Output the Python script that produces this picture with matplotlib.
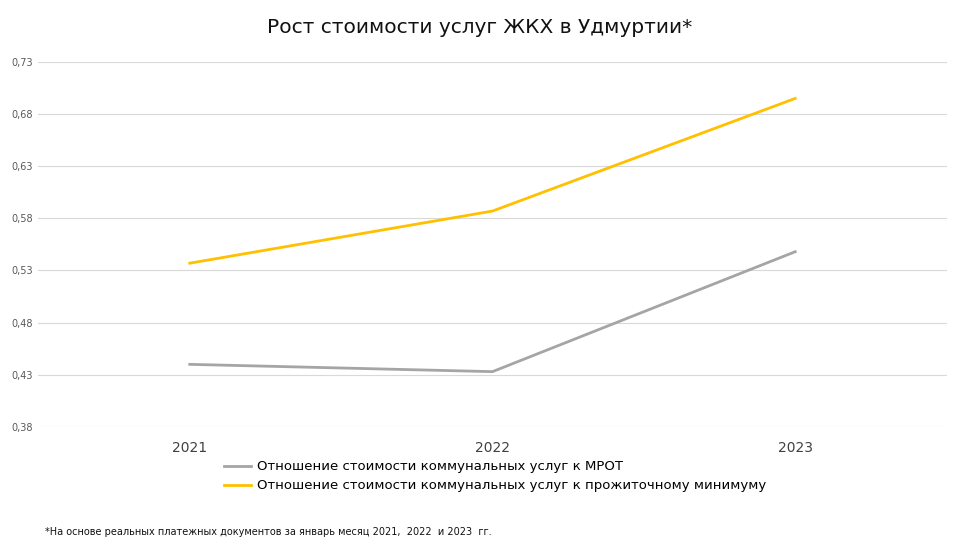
import matplotlib.pyplot as plt

years = ["2021", "2022", "2023"]
mrot = [0.440, 0.433, 0.548]
minimum = [0.537, 0.587, 0.695]
yticks = [0.38, 0.43, 0.48, 0.53, 0.58, 0.63, 0.68, 0.73]

fig = plt.figure(figsize=(9.6, 5.53), dpi=100)
ax = fig.add_axes([0.04, 0.228, 0.946, 0.66])

x = range(len(years))
l1, = ax.plot(x, mrot, color="#a5a5a5", lw=2.0,
              label="Отношение стоимости коммунальных услуг к МРОТ")
l2, = ax.plot(x, minimum, color="#ffc000", lw=2.0,
              label="Отношение стоимости коммунальных услуг к прожиточному минимуму")

ax.set_xlim(-0.5, 2.5)
ax.set_ylim(0.38, 0.73)
ax.set_yticks(yticks)
ax.set_yticklabels([f"{t:.2f}".replace(".", ",") for t in yticks])
ax.set_xticks(list(x))
ax.set_xticklabels(years)
ax.grid(axis="y", color="#d9d9d9", lw=0.8)
ax.set_axisbelow(True)
for s in ax.spines.values():
    s.set_visible(False)
ax.tick_params(axis="y", length=0, labelsize=7, colors="#595959", pad=4)
ax.tick_params(axis="x", length=0, labelsize=10, colors="#404040", pad=10)

fig.text(0.5, 0.95, "Рост стоимости услуг ЖКХ в Удмуртии*", ha="center", va="center",
         fontsize=14.5, color="#111111")
fig.legend(handles=[l1, l2], loc="upper left", bbox_to_anchor=(0.228, 0.177),
           frameon=False, fontsize=9.5, handlelength=2.0, labelspacing=0.45,
           borderaxespad=0, handletextpad=0.5)
fig.text(0.047, 0.038, "*На основе реальных платежных документов за январь месяц 2021,  2022  и 2023  гг.",
         fontsize=7, color="#111111", va="center")

fig.savefig("out.png", dpi=100)
